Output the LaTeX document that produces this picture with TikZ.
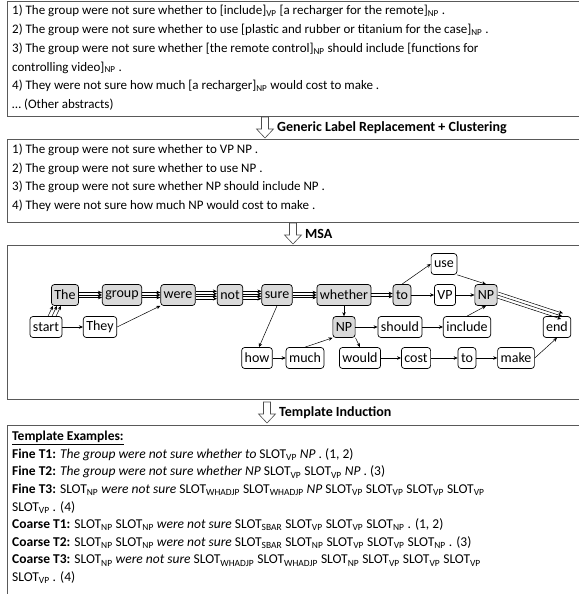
\documentclass[tikz,border=0pt]{standalone}
\usepackage{fontspec}
\setmainfont{Carlito}
\usetikzlibrary{arrows.meta,positioning}

\newcommand{\tsub}[1]{\textsubscript{#1}}
\newcommand{\tslot}[1]{SLOT\textsubscript{#1}}

\begin{document}
\begin{tikzpicture}[x=1pt,y=1pt,
  panel/.style={draw=black!65,line width=0.8pt,anchor=north west,minimum width=600pt,inner sep=0pt},
  txt/.style={anchor=north west,align=left,inner sep=0pt,font=\fontsize{13}{18.8}\selectfont},
  steplbl/.style={anchor=west,inner sep=0pt,font=\fontsize{14}{16}\selectfont\bfseries},
  word/.style={draw,rounded corners=3pt,line width=0.7pt,minimum height=21pt,inner xsep=3pt,inner ysep=0pt,font=\fontsize{14}{16}\selectfont},
  hit/.style={word,fill=black!15},
  arr/.style={-{Stealth[length=4pt,width=3.5pt]},line width=0.5pt},
  hollow/.pic={\draw[black!70,line width=0.6pt,fill=white] (-3.5,0) -- (3.5,0) -- (3.5,-12) -- (8.5,-12) -- (0,-21) -- (-8.5,-12) -- (-3.5,-12) -- cycle;}
]
\useasboundingbox (0,0) rectangle (578,-594);

% raw abstracts
\node[panel,minimum height=115pt] (p1) at (7,-1) {};
\node[txt] (t1) at (12,-5) {1) The group were not sure whether to [include]\tsub{VP} [a recharger for the remote]\tsub{NP} .\\
2) The group were not sure whether to use [plastic and rubber or titanium for the case]\tsub{NP} .\\
3) The group were not sure whether [the remote control]\tsub{NP} should include [functions for\\
controlling video]\tsub{NP} .\\
4) They were not sure how much [a recharger]\tsub{NP} would cost to make .\\
… (Other abstracts)};

\pic at (265,-117) {hollow};
\node[steplbl] (s1) at (277,-128) {Generic Label Replacement + Clustering};

% clustered sentences
\node[panel,minimum height=83pt] (p2) at (7,-139) {};
\node[txt] (t2) at (12,-143.5) {1) The group were not sure whether to VP NP .\\
2) The group were not sure whether to use NP .\\
3) The group were not sure whether NP should include NP .\\
4) They were not sure how much NP would cost to make .};

\pic at (293,-223) {hollow};
\node[steplbl] (s2) at (305,-234) {MSA};

% word lattice
\node[panel,minimum height=154pt] (p3) at (7,-245) {};
\node[hit] (the) at (65,-295) {The};
\node[hit] (group) at (122,-295) {group};
\node[hit] (were) at (178,-295) {were};
\node[hit] (not) at (230,-295) {not};
\node[hit] (sure) at (277,-295) {sure};
\node[hit] (whether) at (344,-295) {whether};
\node[hit] (to) at (402,-295) {to};
\node[word] (vp) at (445,-295) {VP};
\node[hit] (np) at (486,-295) {NP};
\node[word] (use) at (444,-264) {use};
\node[word] (start) at (46,-327) {start};
\node[word] (they) at (100,-327) {They};
\node[hit] (npb) at (344,-327) {NP};
\node[word] (should) at (400,-327) {should};
\node[word] (include) at (467,-327) {include};
\node[word] (endw) at (557,-327) {end};
\node[word] (how) at (257,-358) {how};
\node[word] (much) at (305,-358) {much};
\node[word] (would) at (360,-358) {would};
\node[word] (cost) at (416,-358) {cost};
\node[word] (tob) at (467,-358) {to};
\node[word] (make) at (516,-358) {make};

\foreach \o in {2,6,10}
  \draw[arr] ([xshift=\o]start.north) -- ([xshift=\o-14]the.south);
\foreach \o in {-2.5,0,2.5} {
  \draw[arr] ([yshift=\o]the.east) -- ([yshift=\o]group.west);
  \draw[arr] ([yshift=\o]group.east) -- ([yshift=\o]were.west);
  \draw[arr] ([yshift=\o]sure.east) -- ([yshift=\o]whether.west);
}
\foreach \o in {-3.75,-1.25,1.25,3.75} {
  \draw[arr] ([yshift=\o]were.east) -- ([yshift=\o]not.west);
  \draw[arr] ([yshift=\o]not.east) -- ([yshift=\o]sure.west);
}
\foreach \o in {-1.5,1.5}
  \draw[arr] ([yshift=\o]whether.east) -- ([yshift=\o]to.west);
\foreach \o in {-1,0,1}
  \draw[arr] ([shift={(0.9*\o,2.9*\o)}]np.east) -- ([shift={(5+0.9*\o,2.9*\o)}]endw.north);
\draw[arr] (start) -- (they);
\draw[arr] (they.east) -- (were.south west);
\draw[arr] (sure.south) -- ([xshift=2]how.north);
\draw[arr] (whether) -- (npb);
\draw[arr] (to.north) -- (use.west);
\draw[arr] (use.south east) -- (np.north);
\draw[arr] (to) -- (vp);
\draw[arr] (vp) -- (np);
\draw[arr] (npb) -- (should);
\draw[arr] (should) -- (include);
\draw[arr] (include.north) -- (np.south);
\draw[arr] (how) -- (much);
\draw[arr] (much.north) -- (npb.south west);
\draw[arr] (npb.south east) -- (would.north);
\draw[arr] (would) -- (cost);
\draw[arr] (cost) -- (tob);
\draw[arr] (tob) -- (make);
\draw[arr] (make.east) -- (endw.south);

\pic at (267,-402) {hollow};
\node[steplbl] (s3) at (279,-413) {Template Induction};

% induced templates
\node[panel,minimum height=200pt] (p4) at (7,-425) {};
\node[txt,font=\fontsize{13.5}{17.6}\selectfont] (t4) at (12,-431) {\textbf{\underline{Template Examples:}}\\
\textbf{Fine T1:} \textit{The group were not sure whether to} \tslot{VP} \textit{NP} . (1, 2)\\
\textbf{Fine T2:} \textit{The group were not sure whether NP} \tslot{VP} \tslot{VP} \textit{NP} . (3)\\
\textbf{Fine T3:} \tslot{NP} \textit{were not sure} \tslot{WHADJP} \tslot{WHADJP} \textit{NP} \tslot{VP} \tslot{VP} \tslot{VP} \tslot{VP}\\
\tslot{VP} . (4)\\
\textbf{Coarse T1:} \tslot{NP} \tslot{NP} \textit{were not sure} \tslot{SBAR} \tslot{VP} \tslot{VP} \tslot{NP} . (1, 2)\\
\textbf{Coarse T2:} \tslot{NP} \tslot{NP} \textit{were not sure} \tslot{SBAR} \tslot{NP} \tslot{VP} \tslot{VP} \tslot{NP} . (3)\\
\textbf{Coarse T3:} \tslot{NP} \textit{were not sure} \tslot{WHADJP} \tslot{WHADJP} \tslot{NP} \tslot{VP} \tslot{VP} \tslot{VP}\\
\tslot{VP} . (4)};
\end{tikzpicture}
\end{document}
